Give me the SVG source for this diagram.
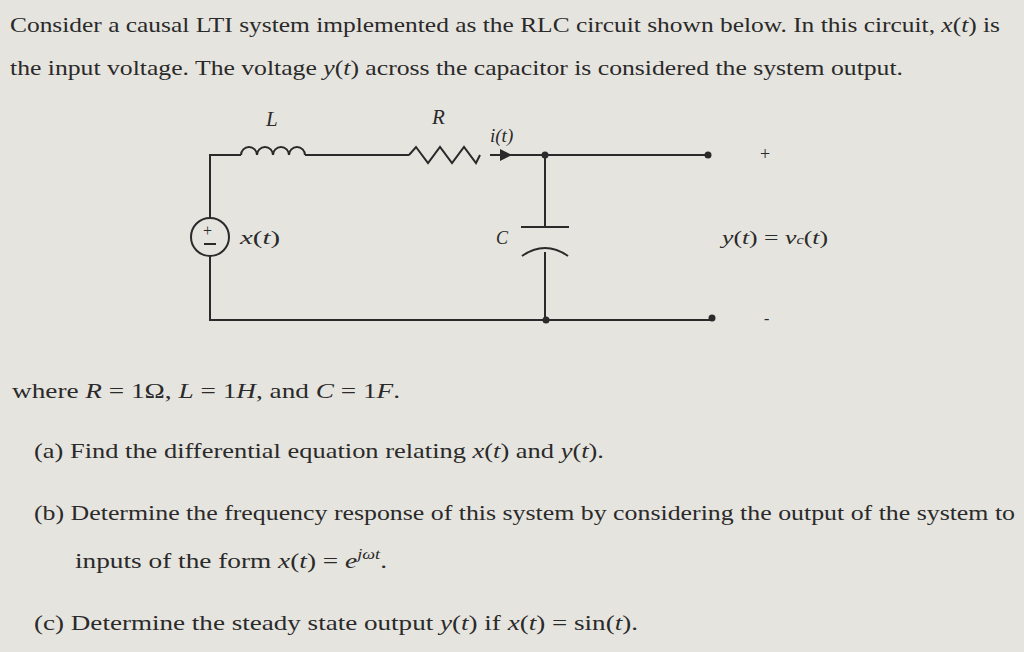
<svg xmlns="http://www.w3.org/2000/svg" width="1024" height="652" viewBox="0 0 1024 652">
<style>
text{font-family:"Liberation Serif","DejaVu Serif",serif;fill:#2a2a2a}
.t{font-size:21px}
.m{font-style:italic}
.w{fill:none;stroke:#2a2a2a;stroke-width:2}
.d{fill:#2a2a2a}
</style>
<rect width="1024" height="652" fill="#e6e4df"/>
<text class="t" x="10" y="32" textLength="990" lengthAdjust="spacingAndGlyphs">Consider a causal LTI system implemented as the RLC circuit shown below. In this circuit, <tspan class="m">x</tspan>(<tspan class="m">t</tspan>) is</text>
<text class="t" x="10" y="75" textLength="893" lengthAdjust="spacingAndGlyphs">the input voltage. The voltage <tspan class="m">y</tspan>(<tspan class="m">t</tspan>) across the capacitor is considered the system output.</text>
<g id="connectors">
<path class="w" d="M210 218 V155 H241 M305 155 H409 M490 155 H708 M545 155 V227 M545 252 V320 M210 256 V320 H712"/>
</g>
<g id="inductor"><path class="w" d="M241 155 a8 8 0 0 1 16 0 a8 8 0 0 1 16 0 a8 8 0 0 1 16 0 a8 8 0 0 1 16 0"/><text class="t m" x="266" y="126" font-size="18">L</text></g>
<g id="resistor"><path class="w" d="M409 155 l7 -8 l12 16 l12 -16 l12 16 l12 -16 l12 16 l4 -8"/><text class="t m" x="432" y="124" font-size="18">R</text></g>
<g id="current"><path class="d" d="M500 149 L512 155 L500 161 Z"/><text class="m" x="490" y="142" font-size="19">i(t)</text></g>
<g id="capacitor"><path class="w" d="M521 227 H569 M522 256 Q545 240 568 256"/><text class="m" x="496" y="244" font-size="18">C</text></g>
<g id="source"><circle class="w" cx="210" cy="237" r="19"/><text x="203" y="236" font-size="16">+</text><path class="w" d="M204 244 H216" stroke-width="1.5"/><text x="240" y="244" font-size="19" textLength="40" lengthAdjust="spacingAndGlyphs"><tspan class="m">x</tspan>(<tspan class="m">t</tspan>)</text></g>
<g id="nodes"><circle class="d" cx="545" cy="155" r="3.5"/><circle class="d" cx="708" cy="155" r="3.5"/><circle class="d" cx="546" cy="320" r="3.5"/><circle class="d" cx="712" cy="318" r="3.5"/></g>
<g id="output"><text x="760" y="160" font-size="18">+</text><text x="764" y="324" font-size="16">-</text><text x="722" y="244" font-size="19" textLength="106" lengthAdjust="spacingAndGlyphs"><tspan class="m">y</tspan>(<tspan class="m">t</tspan>) = <tspan class="m">v</tspan><tspan font-size="12" class="m">c</tspan>(<tspan class="m">t</tspan>)</text></g>
<text class="t" x="12" y="398" textLength="388" lengthAdjust="spacingAndGlyphs">where <tspan class="m">R</tspan> = 1Ω, <tspan class="m">L</tspan> = 1<tspan class="m">H</tspan>, and <tspan class="m">C</tspan> = 1<tspan class="m">F</tspan>.</text>
<text class="t" x="34" y="458" textLength="570" lengthAdjust="spacingAndGlyphs">(a)  Find the differential equation relating <tspan class="m">x</tspan>(<tspan class="m">t</tspan>) and <tspan class="m">y</tspan>(<tspan class="m">t</tspan>).</text>
<text class="t" x="34" y="520" textLength="981" lengthAdjust="spacingAndGlyphs">(b)  Determine the frequency response of this system by considering the output of the system to</text>
<text class="t" x="75" y="568" textLength="312" lengthAdjust="spacingAndGlyphs">inputs of the form <tspan class="m">x</tspan>(<tspan class="m">t</tspan>) = <tspan class="m">e</tspan><tspan class="m" font-size="14" dy="-9">jωt</tspan><tspan dy="9">.</tspan></text>
<text class="t" x="34" y="630" textLength="604" lengthAdjust="spacingAndGlyphs">(c)  Determine the steady state output <tspan class="m">y</tspan>(<tspan class="m">t</tspan>) if <tspan class="m">x</tspan>(<tspan class="m">t</tspan>) = sin(<tspan class="m">t</tspan>).</text>
</svg>
